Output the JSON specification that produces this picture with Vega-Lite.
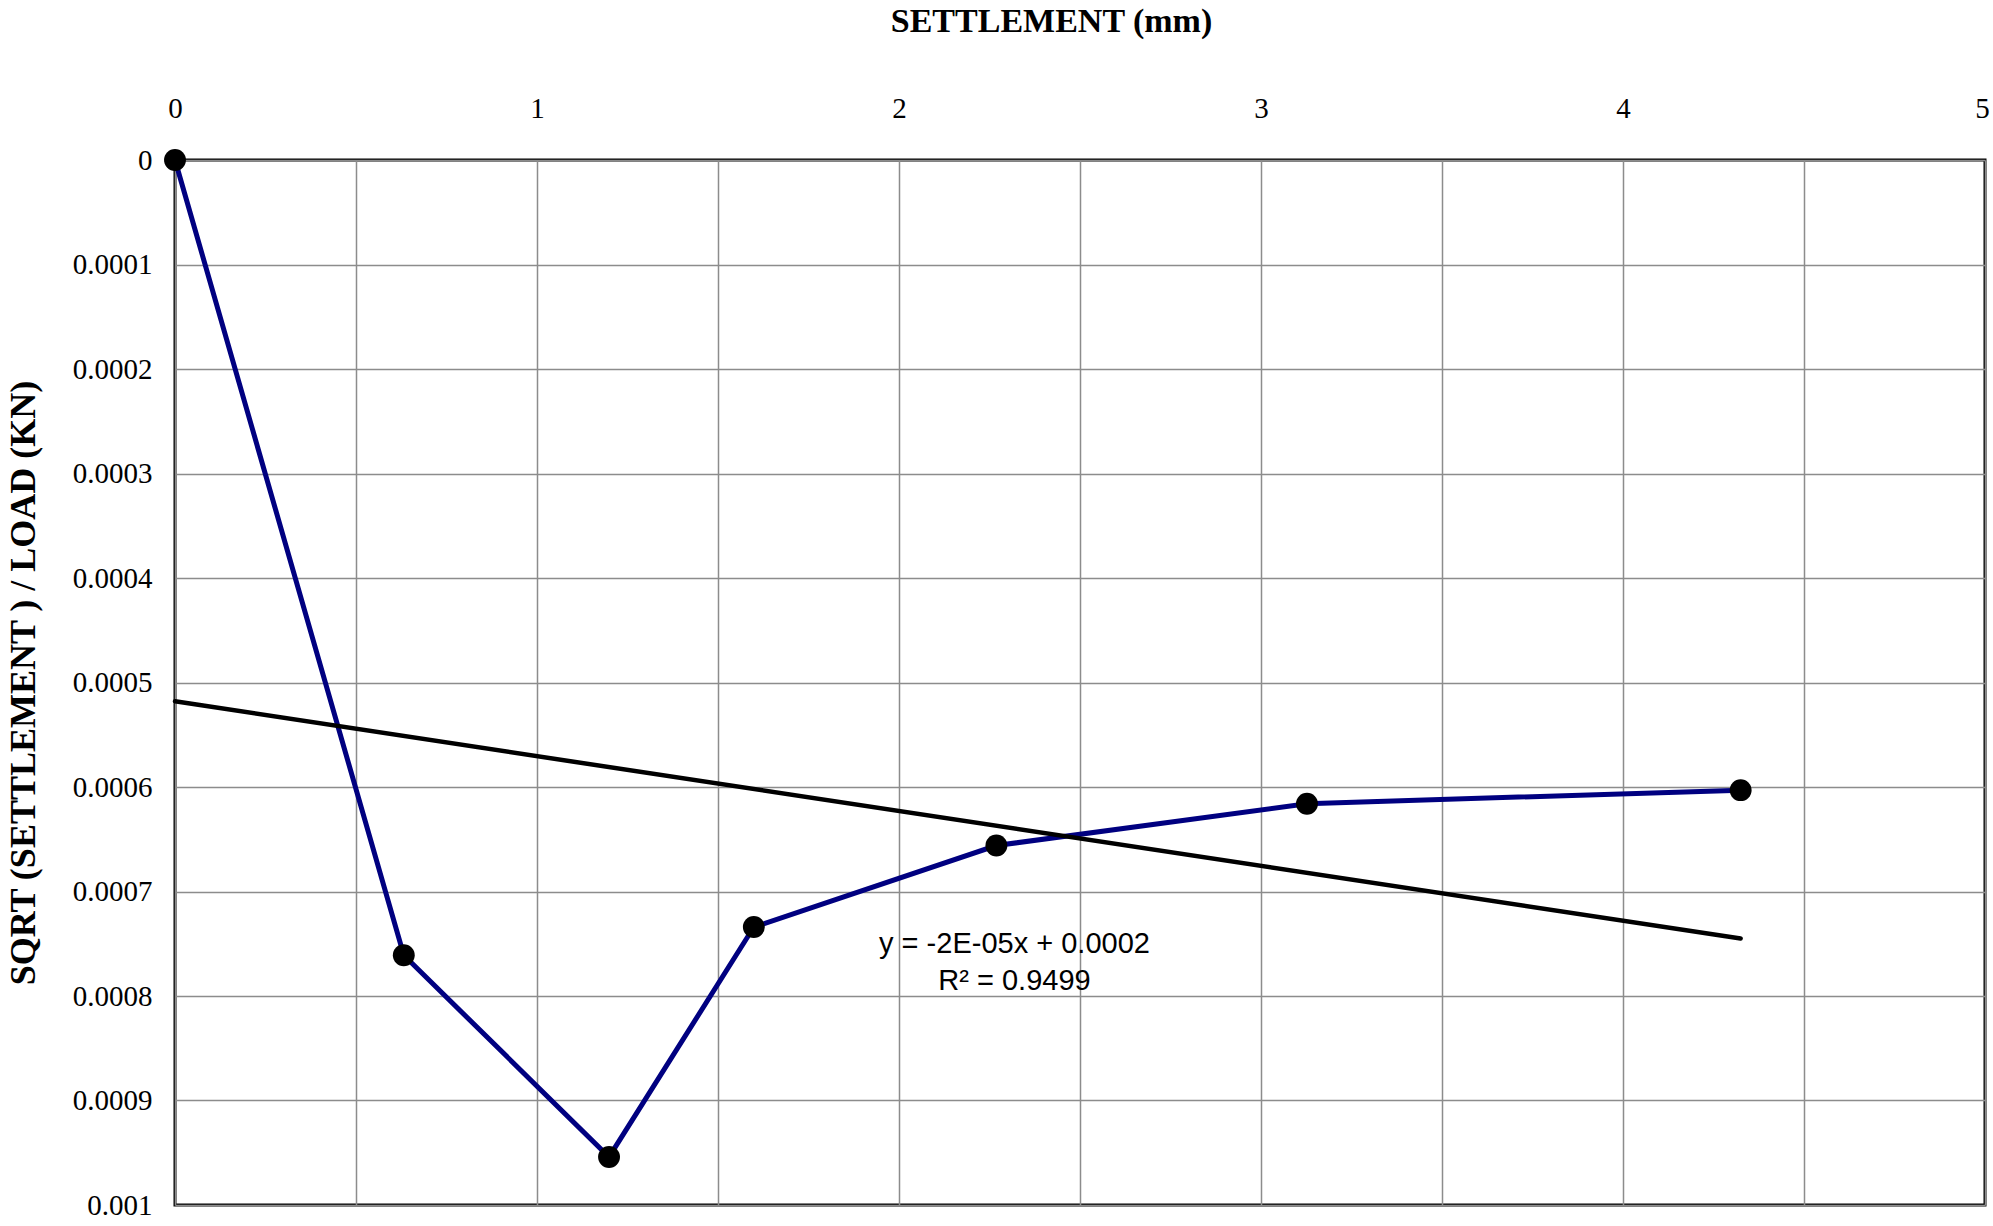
{
  "$schema": "https://vega.github.io/schema/vega-lite/v6.json",
  "autosize": {"type": "none"},
  "padding": {"left": 175, "top": 160, "right": 8, "bottom": 21},
  "width": 1810,
  "height": 1045,
  "background": "white",
  "config": {
    "view": {"stroke": "black", "strokeWidth": 3},
    "axis": {
      "labelFont": "Liberation Serif",
      "labelFontSize": 29,
      "labelColor": "black",
      "titleFont": "Liberation Serif",
      "titleFontWeight": "bold",
      "titleColor": "black",
      "ticks": false,
      "domain": false,
      "gridColor": "#8c8c8c",
      "gridWidth": 1.5,
      "gridOpacity": 1,
      "labelFlush": false,
      "labelOverlap": false,
      "labelBound": false
    }
  },
  "datasets": {
    "obs": [
      {"settlement": 0, "ratio": 0},
      {"settlement": 0.632, "ratio": 0.000761},
      {"settlement": 1.199, "ratio": 0.000954},
      {"settlement": 1.599, "ratio": 0.000734},
      {"settlement": 2.269, "ratio": 0.000656},
      {"settlement": 3.127, "ratio": 0.000616},
      {"settlement": 4.325, "ratio": 0.000603}
    ],
    "trend": [
      {"settlement": 0, "ratio": 0.000518},
      {"settlement": 4.325, "ratio": 0.000745}
    ],
    "note": [
      {"settlement": 2.319, "ratio": 0.000759, "label": "y = -2E-05x + 0.0002"},
      {"settlement": 2.319, "ratio": 0.0007943, "label": "R² = 0.9499"}
    ]
  },
  "encoding": {
    "x": {
      "field": "settlement",
      "type": "quantitative",
      "scale": {"domain": [0, 5], "nice": false, "zero": false},
      "axis": {
        "orient": "top",
        "title": "SETTLEMENT (mm)",
        "titleFontSize": 34,
        "values": [0, 0.5, 1, 1.5, 2, 2.5, 3, 3.5, 4, 4.5, 5],
        "format": "~g",
        "labelExpr": "datum.value % 1 === 0 ? datum.label : ''",
        "labelOffset": {"condition": {"test": "datum.value === 5", "value": -3}, "value": 0},
        "labelPadding": 37,
        "titlePadding": 56,
        "titleX": 876
      }
    },
    "y": {
      "field": "ratio",
      "type": "quantitative",
      "scale": {"domain": [0, 0.001], "nice": false, "reverse": true},
      "axis": {
        "title": "SQRT (SETTLEMENT ) / LOAD (KN)",
        "titleFontSize": 36,
        "values": [0, 0.0001, 0.0002, 0.0003, 0.0004, 0.0005, 0.0006, 0.0007, 0.0008, 0.0009, 0.001],
        "format": "~g",
        "labelPadding": 23,
        "titlePadding": 30
      }
    }
  },
  "layer": [
    {
      "data": {"name": "obs"},
      "mark": {"type": "line", "color": "#000080", "strokeWidth": 5}
    },
    {
      "data": {"name": "trend"},
      "mark": {"type": "line", "color": "black", "strokeWidth": 4.5, "strokeCap": "round"}
    },
    {
      "data": {"name": "obs"},
      "mark": {"type": "circle", "color": "black", "opacity": 1, "size": 480}
    },
    {
      "data": {"name": "note"},
      "mark": {
        "type": "text",
        "font": "Liberation Sans",
        "fontSize": 29,
        "color": "black",
        "align": "center",
        "baseline": "alphabetic"
      },
      "encoding": {"text": {"field": "label"}}
    }
  ]
}
